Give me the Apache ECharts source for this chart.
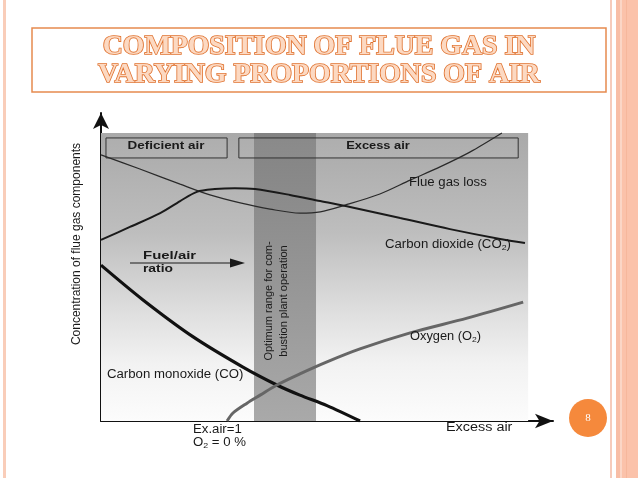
<!DOCTYPE html>
<html>
<head>
<meta charset="utf-8">
<script src="https://cdn.jsdelivr.net/npm/echarts@6/dist/echarts.min.js"></script>
<style>
html,body{margin:0;padding:0;background:#fff;}
#c{width:638px;height:478px;}
</style>
</head>
<body>
<div id="c"></div>
<script>
// ---- data (arbitrary units: x = excess air 0..100, y = concentration 0..100) ----
var flueGasLoss = [[0,86.4],[8.6,81.8],[17.5,76.9],[24.1,73.4],[30.8,70.8],[37.4,68.8],[44.0,67.5],[48.5,67.9],[54.0,70.1],[61.7,73.7],[68.4,78.2],[75.0,82.5],[81.6,87.3],[88.7,93.5]];
var carbonDioxide = [[0,58.8],[6.4,63.0],[13.1,67.5],[17.5,71.4],[21.2,74.4],[25.2,75.3],[29.6,75.6],[34.1,75.3],[41.8,73.4],[48.5,71.4],[55.1,69.5],[66.2,65.9],[77.2,62.3],[88.3,59.1],[93.8,57.8]];
var carbonMonoxide = [[0,50.6],[9.3,39.3],[20.4,27.3],[31.4,17.5],[38.9,11.7],[44.0,8.4],[50.0,5.0],[57.3,0]];
var oxygen = [[27.9,0],[29.2,2.6],[32.3,5.8],[35.2,8.4],[38.9,11.7],[44.0,15.3],[50.0,19.2],[57.3,23.4],[68.4,28.6],[81.0,33.4],[93.4,38.6]];
var diagramArea = [0, 94.5, 0, 93.5];        // x0,x1,y0,y1
var optimumRange = [33.85, 47.57];          // x0,x1
var deficientBox = [1.1, 27.9, 85.4, 91.9];
var excessBox = [30.5, 92.3, 85.4, 91.9];

var chart = echarts.init(document.getElementById('c'), null, {renderer:'canvas'});
var F = '"Liberation Sans", Arial, sans-serif';
var TF = 'bold 27px "Liberation Serif", "DejaVu Serif", serif';

function txt(x, y, text, font, opts) {
  opts = opts || {};
  var o = {type:'text', x:x, y:y, z:10,
    style:{text:text, font:font, fill:'#1a1a1a', align:opts.align || 'left', verticalAlign:'middle',
      rich:{s:{font:'8px '+F, fill:'#1a1a1a', padding:[6,0,0,0]}}}};
  if (opts.rotation) o.rotation = opts.rotation;
  if (opts.sx) o.scaleX = opts.sx;
  return o;
}

var option = {
  backgroundColor: '#ffffff',
  animation: false,
  grid: {left: 101, right: 85, top: 113, bottom: 57},
  xAxis: {type:'value', min:0, max:100,
    axisLine:{show:true, lineStyle:{color:'#111', width:2}, symbol:['none','arrow'], symbolSize:[11,18]},
    axisTick:{show:false}, axisLabel:{show:false}, splitLine:{show:false}},
  yAxis: {type:'value', min:0, max:100,
    axisLine:{show:true, lineStyle:{color:'#111', width:2}, symbol:['none','arrow'], symbolSize:[12,16]},
    axisTick:{show:false}, axisLabel:{show:false}, splitLine:{show:false}},
  series: [
    {type:'line', data:[[0,0]], showSymbol:false, lineStyle:{opacity:0}, silent:true, z:1,
      markArea:{silent:true, data:[
        [{xAxis:diagramArea[0], yAxis:diagramArea[3], itemStyle:{color:new echarts.graphic.LinearGradient(0,0,0,1,[
            {offset:0,color:'#a9a9a9'},{offset:0.35,color:'#bebebe'},{offset:0.6,color:'#dcdcdc'},{offset:0.8,color:'#f2f2f2'},{offset:1,color:'#fcfcfc'}])}},
         {xAxis:diagramArea[1], yAxis:diagramArea[2]}],
        [{xAxis:optimumRange[0], yAxis:diagramArea[3], itemStyle:{color:new echarts.graphic.LinearGradient(0,0,0,1,[
            {offset:0,color:'#838383'},{offset:0.5,color:'#959595'},{offset:1,color:'#a9a9a9'}])}},
         {xAxis:optimumRange[1], yAxis:diagramArea[2]}],
        [{xAxis:deficientBox[0], yAxis:deficientBox[3], itemStyle:{color:'rgba(255,255,255,0.05)', borderColor:'#333', borderWidth:1}},
         {xAxis:deficientBox[1], yAxis:deficientBox[2]}],
        [{xAxis:excessBox[0], yAxis:excessBox[3], itemStyle:{color:'rgba(255,255,255,0.05)', borderColor:'#333', borderWidth:1}},
         {xAxis:excessBox[1], yAxis:excessBox[2]}]
      ]}},
    {name:'Flue gas loss', type:'line', data:flueGasLoss, smooth:0.3, showSymbol:false, z:3,
      lineStyle:{color:'#2a2a2a', width:1.2}},
    {name:'Carbon dioxide', type:'line', data:carbonDioxide, smooth:0.3, showSymbol:false, z:3,
      lineStyle:{color:'#1a1a1a', width:2}},
    {name:'Carbon monoxide', type:'line', data:carbonMonoxide, smooth:0.3, showSymbol:false, z:3,
      lineStyle:{color:'#111', width:3.2}},
    {name:'Oxygen', type:'line', data:oxygen, smooth:0.3, showSymbol:false, z:3,
      lineStyle:{color:'#666', width:3}}
  ],
  graphic: [
    // slide decorations
    {type:'rect', shape:{x:3,y:0,width:3,height:478}, style:{fill:'#f9cdb9'}, z:0},
    {type:'rect', shape:{x:610,y:0,width:2,height:478}, style:{fill:'#f6cbbb'}, z:0},
    {type:'rect', shape:{x:616,y:0,width:4,height:478}, style:{fill:'#f8bea6'}, z:0},
    {type:'rect', shape:{x:620,y:0,width:2,height:478}, style:{fill:'#fbd6c6'}, z:0},
    {type:'rect', shape:{x:622,y:0,width:16,height:478}, style:{fill:'#fbc2aa'}, z:0},
    {type:'rect', shape:{x:626,y:0,width:1,height:478}, style:{fill:'#f6b79c'}, z:0},
    {type:'rect', shape:{x:32,y:28,width:574,height:64}, style:{fill:'none', stroke:'#e68a4f', lineWidth:1.5}, z:0},
    {type:'text', x:319, y:47, z:5, scaleX:1.03, style:{text:'COMPOSITION OF FLUE GAS IN', font:TF, fill:'#fcd9c2', stroke:'#e0722f', lineWidth:1.6, align:'center', verticalAlign:'middle'}},
    {type:'text', x:319, y:75, z:5, scaleX:1.03, style:{text:'VARYING PROPORTIONS OF AIR', font:TF, fill:'#fcd9c2', stroke:'#e0722f', lineWidth:1.6, align:'center', verticalAlign:'middle'}},
    {type:'circle', shape:{cx:588, cy:418, r:19}, style:{fill:'#f5893c'}, z:5},
    {type:'text', x:588, y:418, z:6, style:{text:'8', font:'11px "Liberation Serif", serif', fill:'#fff', align:'center', verticalAlign:'middle'}},
    // chart annotations
    txt(77, 244, 'Concentration of flue gas components', '12px '+F, {align:'center', rotation:Math.PI/2}),
    txt(166, 145.5, 'Deficient air', 'bold 11px '+F, {align:'center', sx:1.22}),
    txt(378, 145.5, 'Excess air', 'bold 11px '+F, {align:'center', sx:1.17}),
    txt(409, 183, 'Flue gas loss', '12px '+F, {sx:1.1}),
    txt(385, 245, 'Carbon dioxide (CO{s|2})', '12px '+F, {sx:1.1}),
    txt(143, 256, 'Fuel/air', 'bold 11.5px '+F, {sx:1.3}),
    txt(143, 269, 'ratio', 'bold 11.5px '+F, {sx:1.2}),
    {type:'line', shape:{x1:130,y1:263,x2:232,y2:263}, style:{stroke:'#1a1a1a', lineWidth:1}, z:10},
    {type:'polygon', shape:{points:[[230,258.5],[245,263],[230,267.5]]}, style:{fill:'#1a1a1a'}, z:10},
    txt(269, 301, 'Optimum range for com-', '11px '+F, {align:'center', rotation:Math.PI/2}),
    txt(284, 301, 'bustion plant operation', '11px '+F, {align:'center', rotation:Math.PI/2}),
    txt(107, 375, 'Carbon monoxide (CO)', '12px '+F, {sx:1.1}),
    txt(410, 337, 'Oxygen (O{s|2})', '12px '+F, {sx:1.07}),
    txt(193, 430, 'Ex.air=1', '12px '+F, {sx:1.1}),
    txt(193, 443, 'O{s|2} = 0 %', '12px '+F, {sx:1.1}),
    txt(446, 428, 'Excess air', '12px '+F, {sx:1.2})
  ]
};
chart.setOption(option);
</script>
</body>
</html>
